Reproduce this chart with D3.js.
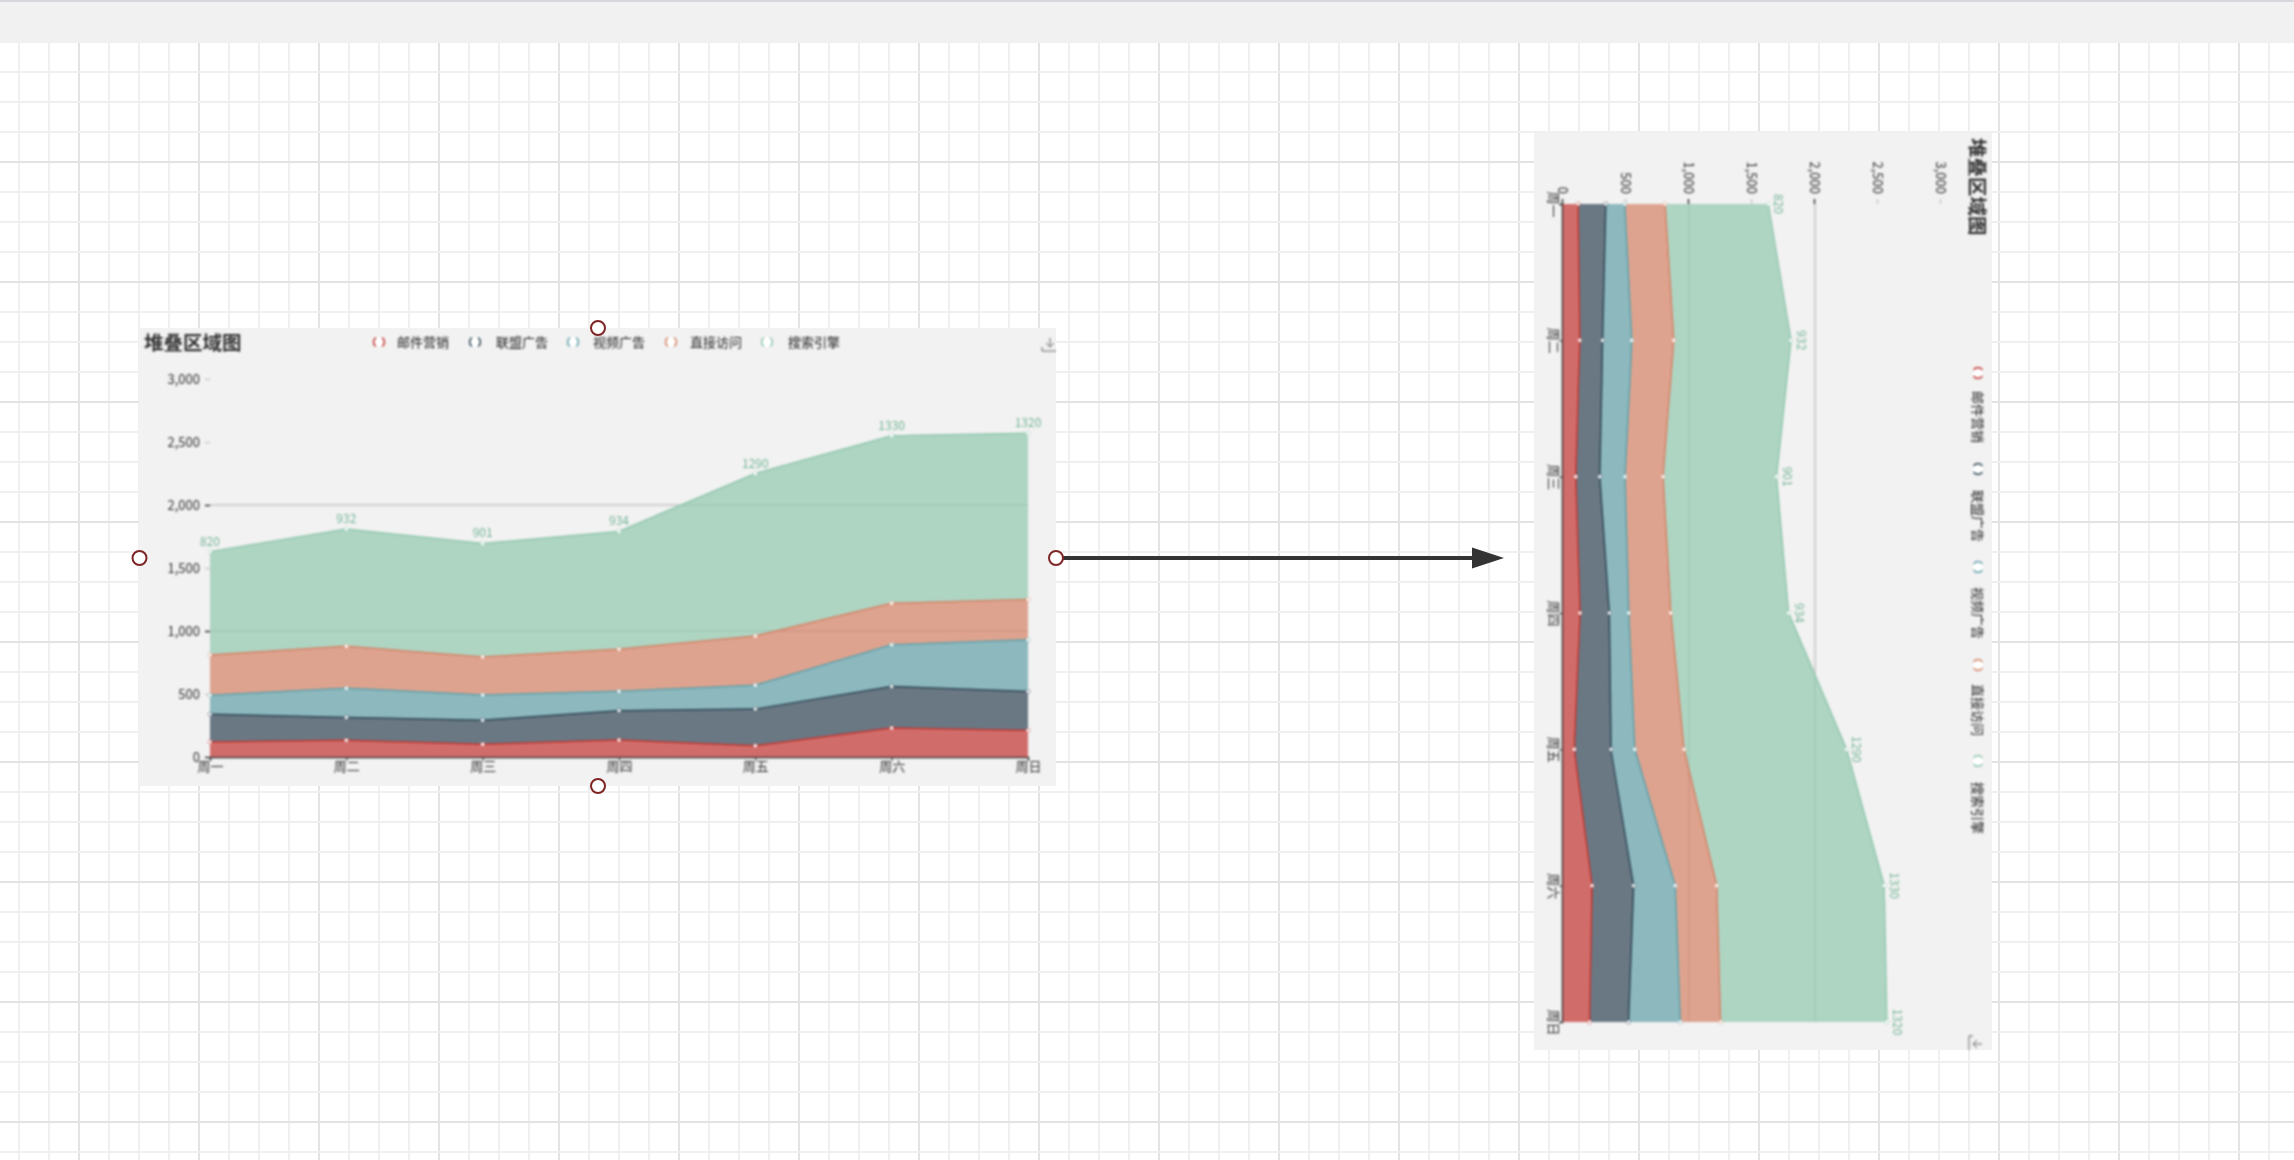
<!DOCTYPE html>
<html>
<head>
<meta charset="utf-8">
<script src="https://cdn.jsdelivr.net/npm/d3@7"></script>
<style>
    html, body { margin: 0; background: #fff; overflow: hidden; }
    svg { display: block; }
    text { font-family: "Noto Sans CJK SC", "Noto Sans", sans-serif; }
    .soft { filter: blur(0.9px); }
    .grid { filter: blur(0.5px); }
</style>
</head>
<body>
<svg width="2294" height="1160"></svg>
<script>
const days = ["周一", "周二", "周三", "周四", "周五", "周六", "周日"];
const names = ["邮件营销", "联盟广告", "视频广告", "直接访问", "搜索引擎"];
const colors = ["#c23531", "#2f4554", "#61a0a8", "#d48265", "#91c7ae"];

const mail = [120, 132, 101, 134, 90, 230, 210];
const union = [220, 182, 191, 234, 290, 330, 310];
const video = [150, 232, 201, 154, 190, 330, 410];
const direct = [320, 332, 301, 334, 390, 330, 320];
const search = [820, 932, 901, 934, 1290, 1330, 1320];
const allSeries = [mail, union, video, direct, search];

const yTicks = [0, 500, 1000, 1500, 2000, 2500, 3000];
const strongTicks = [0, 1000, 2000];
const legendSymbolX = [240, 336, 434, 532, 628];
const legendTextX = [258, 357, 454, 551, 649];

const panelW = 917, panelH = 458;

const svg = d3.select("svg");

// Background grid
const grid = svg.append("g").attr("class", "grid");
d3.range(19, 2294, 30).forEach(x => {
    grid.append("line")
        .attr("x1", x).attr("x2", x)
        .attr("y1", 43).attr("y2", 1160)
        .attr("stroke", (x - 79) % 120 === 0 ? "#e3e3e3" : "#f0f0f0")
        .attr("stroke-width", 2);
});
d3.range(42, 1160, 30).forEach(y => {
    grid.append("line")
        .attr("x1", 0).attr("x2", 2294)
        .attr("y1", y).attr("y2", y)
        .attr("stroke", (y - 42) % 120 === 0 ? "#e3e3e3" : "#f0f0f0")
        .attr("stroke-width", 2);
});

// Top bar
svg.append("rect").attr("width", 2294).attr("height", 43).attr("fill", "#f1f1f1");
svg.append("rect").attr("width", 2294).attr("height", 2).attr("fill", "#d6d6dc");

const x = d3.scalePoint().domain(d3.range(days.length)).range([71, 889]);
const y = d3.scaleLinear().domain([0, 3000]).range([429, 51]);

const stacked = d3.stack().keys(d3.range(allSeries.length))
    .value((d, key) => allSeries[key][d])(d3.range(days.length));

const area = d3.area()
    .x(d => x(d.data))
    .y0(d => y(d[0]))
    .y1(d => y(d[1]));

const topLine = d3.line()
    .x(d => x(d.data))
    .y(d => y(d[1]));

function drawChart(g) {
    g.append("rect").attr("width", panelW).attr("height", panelH).attr("fill", "#f2f2f2");

    const inner = g.append("g").attr("class", "soft");

    // only these split lines survive in the picture
    inner.selectAll(".split")
        .data([1000, 2000])
        .enter().append("line")
        .attr("x1", x(0)).attr("x2", x(days.length - 1))
        .attr("y1", d => y(d)).attr("y2", d => y(d))
        .attr("stroke", "#c4c4c4")
        .attr("stroke-width", 1.5);

    // Axes
    const yAxis = inner.append("g")
        .attr("transform", `translate(${x(0)},0)`)
        .call(d3.axisLeft(y).tickValues(yTicks).tickSize(5).tickPadding(5).tickFormat(d3.format(",")));
    yAxis.select(".domain").remove();
    yAxis.selectAll("text").attr("fill", "#333").attr("font-size", 13);
    yAxis.selectAll("line")
        .attr("stroke", d => strongTicks.includes(d) ? "#333" : "#ccc")
        .attr("stroke-width", 1.5);

    const xAxis = inner.append("g")
        .attr("transform", `translate(0,${y(0)})`)
        .call(d3.axisBottom(x).tickSize(4).tickPadding(1).tickFormat(i => days[i]));
    xAxis.select(".domain").attr("stroke", "#333").attr("stroke-width", 1.5);
    xAxis.selectAll("text").attr("fill", "#333").attr("font-size", 13);
    xAxis.selectAll("line").attr("stroke", "#333");

    // Areas
    inner.selectAll(".band")
        .data(stacked)
        .enter().append("path")
        .attr("d", area)
        .attr("fill", (d, i) => colors[i])
        .attr("fill-opacity", 0.7);

    inner.selectAll(".top")
        .data(stacked)
        .enter().append("path")
        .attr("d", topLine)
        .attr("fill", "none")
        .attr("stroke", (d, i) => colors[i])
        .attr("stroke-width", 1.5);

    // Points
    stacked.forEach((s, i) => {
        inner.selectAll(null)
            .data(s)
            .enter().append("circle")
            .attr("cx", d => x(d.data))
            .attr("cy", d => y(d[1]))
            .attr("r", 2)
            .attr("fill", "#fff")
            .attr("stroke", colors[i])
            .attr("stroke-width", 0.5);
    });

    // Labels on the top series
    inner.selectAll(".value")
        .data(stacked[4])
        .enter().append("text")
        .attr("x", d => x(d.data))
        .attr("y", d => y(d[1]) - 6)
        .attr("text-anchor", "middle")
        .attr("fill", "#74b596")
        .attr("font-size", 12)
        .text((d, i) => search[i]);

    inner.append("text")
        .attr("x", 5).attr("y", 22)
        .attr("fill", "#333")
        .attr("font-size", 19.5)
        .attr("font-weight", "bold")
        .text("堆叠区域图");

    // Legend
    const arc = d3.arc().innerRadius(4.6).outerRadius(6.2);
    names.forEach((name, i) => {
        const item = inner.append("g").attr("transform", `translate(${legendSymbolX[i]},14)`);
        item.append("circle").attr("r", 4.8).attr("fill", "#fff");
        item.append("path")
            .attr("d", arc({ startAngle: 0.6, endAngle: 2.5 }))
            .attr("fill", colors[i]);
        item.append("path")
            .attr("d", arc({ startAngle: -2.5, endAngle: -0.6 }))
            .attr("fill", colors[i]);
        inner.append("text")
            .attr("x", legendTextX[i]).attr("y", 19)
            .attr("fill", "#222")
            .attr("font-size", 13)
            .text(name);
    });

    // Download icon, cut by the panel edge
    inner.append("path")
        .attr("d", "M911 18 V10 M907 15 L911 19 L915 15 M903 19 L903 23 H917")
        .attr("fill", "none")
        .attr("stroke", "#666")
        .attr("stroke-width", 1);
}

drawChart(svg.append("g").attr("transform", "translate(139,328)"));
drawChart(svg.append("g").attr("transform", "translate(1992,133) rotate(90)"));

// Arrow
const arrow = svg.append("g").attr("class", "grid");
arrow.append("line")
    .attr("x1", 1056).attr("x2", 1476)
    .attr("y1", 558).attr("y2", 558)
    .attr("stroke", "#333")
    .attr("stroke-width", 4);
arrow.append("path")
    .attr("d", d3.line()([[1472, 547.5], [1504, 558], [1472, 568.5]]))
    .attr("fill", "#333");

// Selection handles
const handleX = [598, 139.5, 1056, 598];
const handleY = [328, 558, 558, 786];
svg.selectAll(".handle")
    .data(handleX)
    .enter().append("circle")
    .attr("cx", d => d)
    .attr("cy", (d, i) => handleY[i])
    .attr("r", 7)
    .attr("fill", "#fff")
    .attr("stroke", "#7f2525")
    .attr("stroke-width", 2);
</script>
</body>
</html>
